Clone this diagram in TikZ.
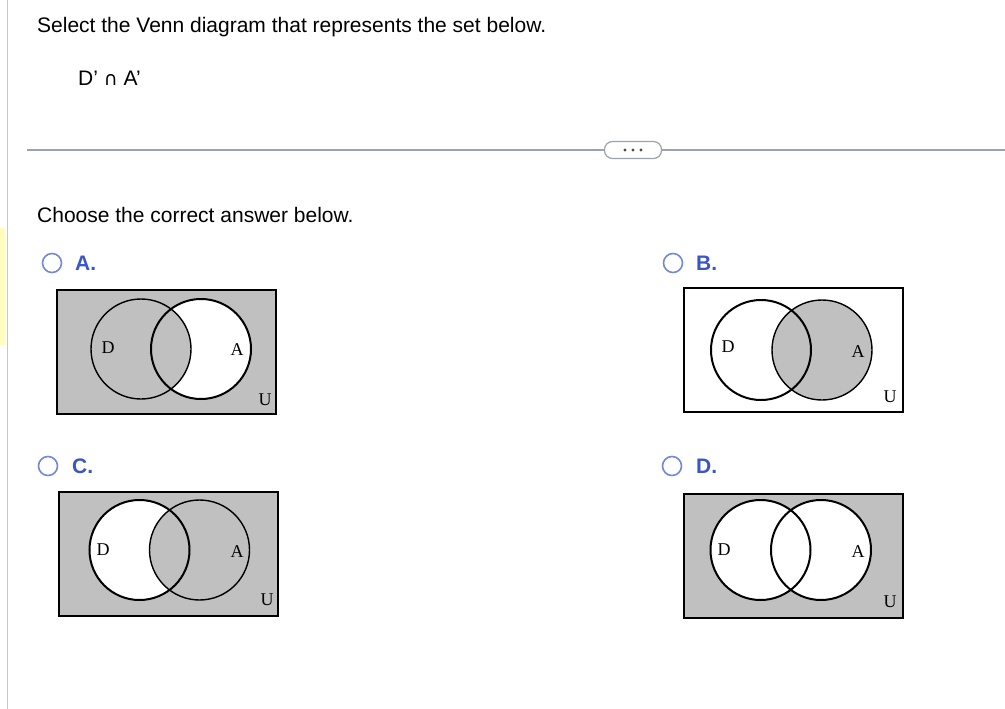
\documentclass[tikz,border=0pt]{standalone}
\usepackage{fontspec}
\setmainfont{Liberation Sans}
\newfontfamily\serifv{Liberation Serif}
\newfontfamily\dejav{DejaVu Sans}
\definecolor{vgray}{HTML}{C0C0C0}
\definecolor{qblue}{HTML}{3A55C8}
\definecolor{lgray}{HTML}{9AA3B0}
\begin{document}
\begin{tikzpicture}[x=1pt,y=-1pt,
  txt/.style={anchor=west,inner sep=0pt,font=\fontsize{21}{25}\selectfont},
  opt/.style={anchor=west,inner sep=0pt,font=\fontsize{21}{25}\selectfont\bfseries,text=qblue},
  radio/.style={circle,draw=qblue!70,line width=1.6pt,minimum size=19pt,inner sep=0pt},
  vlab/.style={inner sep=0pt,font=\fontsize{18}{20}\serifv},
  vline/.style={line width=1.4pt}]
\useasboundingbox (0,0) rectangle (1005,709);
\fill[yellow!25] (0,228) rectangle (5,345);
\draw[lgray!60,line width=1pt] (7,0) -- (7,709);
\node[txt] (title) at (37,27) {Select the Venn diagram that represents the set below.};
\node[txt] (set) at (78,78) {D' {\dejav\fontsize{19}{22}\selectfont ∩} A'};
\node[draw=lgray,line width=1.2pt,rounded corners=8pt,minimum width=57pt,minimum height=17pt,inner sep=0pt,fill=white] (pill) at (633,150) {};
\draw[lgray,line width=1.2pt] (27,150) -- (pill.west);
\draw[lgray,line width=1.2pt] (pill.east) -- (1005,150);
\foreach \dx in {-8,0,8} \fill[black!70] (633+\dx,150) circle (1.6pt);
\node[txt] (choose) at (37,215) {Choose the correct answer below.};
\node[radio] (ra) at (52,263) {}; \node[opt] (la) at (75,263) {A.};
\node[radio] (rb) at (673,263) {}; \node[opt] (lb) at (696,263) {B.};
\node[radio] (rc) at (48,466) {}; \node[opt] (lc) at (72,466) {C.};
\node[radio] (rd) at (672,466) {}; \node[opt] (ld) at (696,466) {D.};
% A: D' ∩ ... gray except A\D
\fill[vgray] (57,290) rectangle (276,414);
\begin{scope}\clip (201,349) circle (50); \fill[white] (201,349) circle (50); \fill[vgray] (141,349) circle (50);\end{scope}
\draw[line width=1.4pt] (57,290) rectangle (276,414);
\draw[vline] (141,349) circle (50); \draw[line width=2pt] (201,349) circle (50);
\node[vlab] (da) at (108,348) {D}; \node[vlab] (aa) at (237,350) {A}; \node[vlab] (ua) at (265,400) {U};
% B
\draw[line width=1.4pt] (684,288) rectangle (903,412);
\fill[vgray] (822,350) circle (50);
\draw[line width=2pt] (761,350) circle (50); \draw[vline] (822,350) circle (50);
\node[vlab] (db) at (728,347) {D}; \node[vlab] (ab) at (858,352) {A}; \node[vlab] (ub) at (890,397) {U};
% C
\fill[vgray] (59,492) rectangle (278,616);
\begin{scope}\clip (139.5,550) circle (50); \fill[white] (139.5,550) circle (50); \fill[vgray] (199.5,550) circle (50);\end{scope}
\draw[line width=1.4pt] (59,492) rectangle (278,616);
\draw[line width=2pt] (139.5,550) circle (50); \draw[vline] (199.5,550) circle (50);
\node[vlab] (dc) at (103,550) {D}; \node[vlab] (ac) at (237,552) {A}; \node[vlab] (uc) at (267,600) {U};
% D
\fill[vgray] (684,494) rectangle (903,618);
\fill[white] (760.5,550) circle (50); \fill[white] (821,550) circle (50);
\draw[line width=1.4pt] (684,494) rectangle (903,618);
\draw[line width=2pt] (760.5,550) circle (50); \draw[line width=2pt] (821,550) circle (50);
\node[vlab] (dd) at (724,550) {D}; \node[vlab] (ad) at (858,552) {A}; \node[vlab] (ud) at (890,602) {U};
\end{tikzpicture}
\end{document}
